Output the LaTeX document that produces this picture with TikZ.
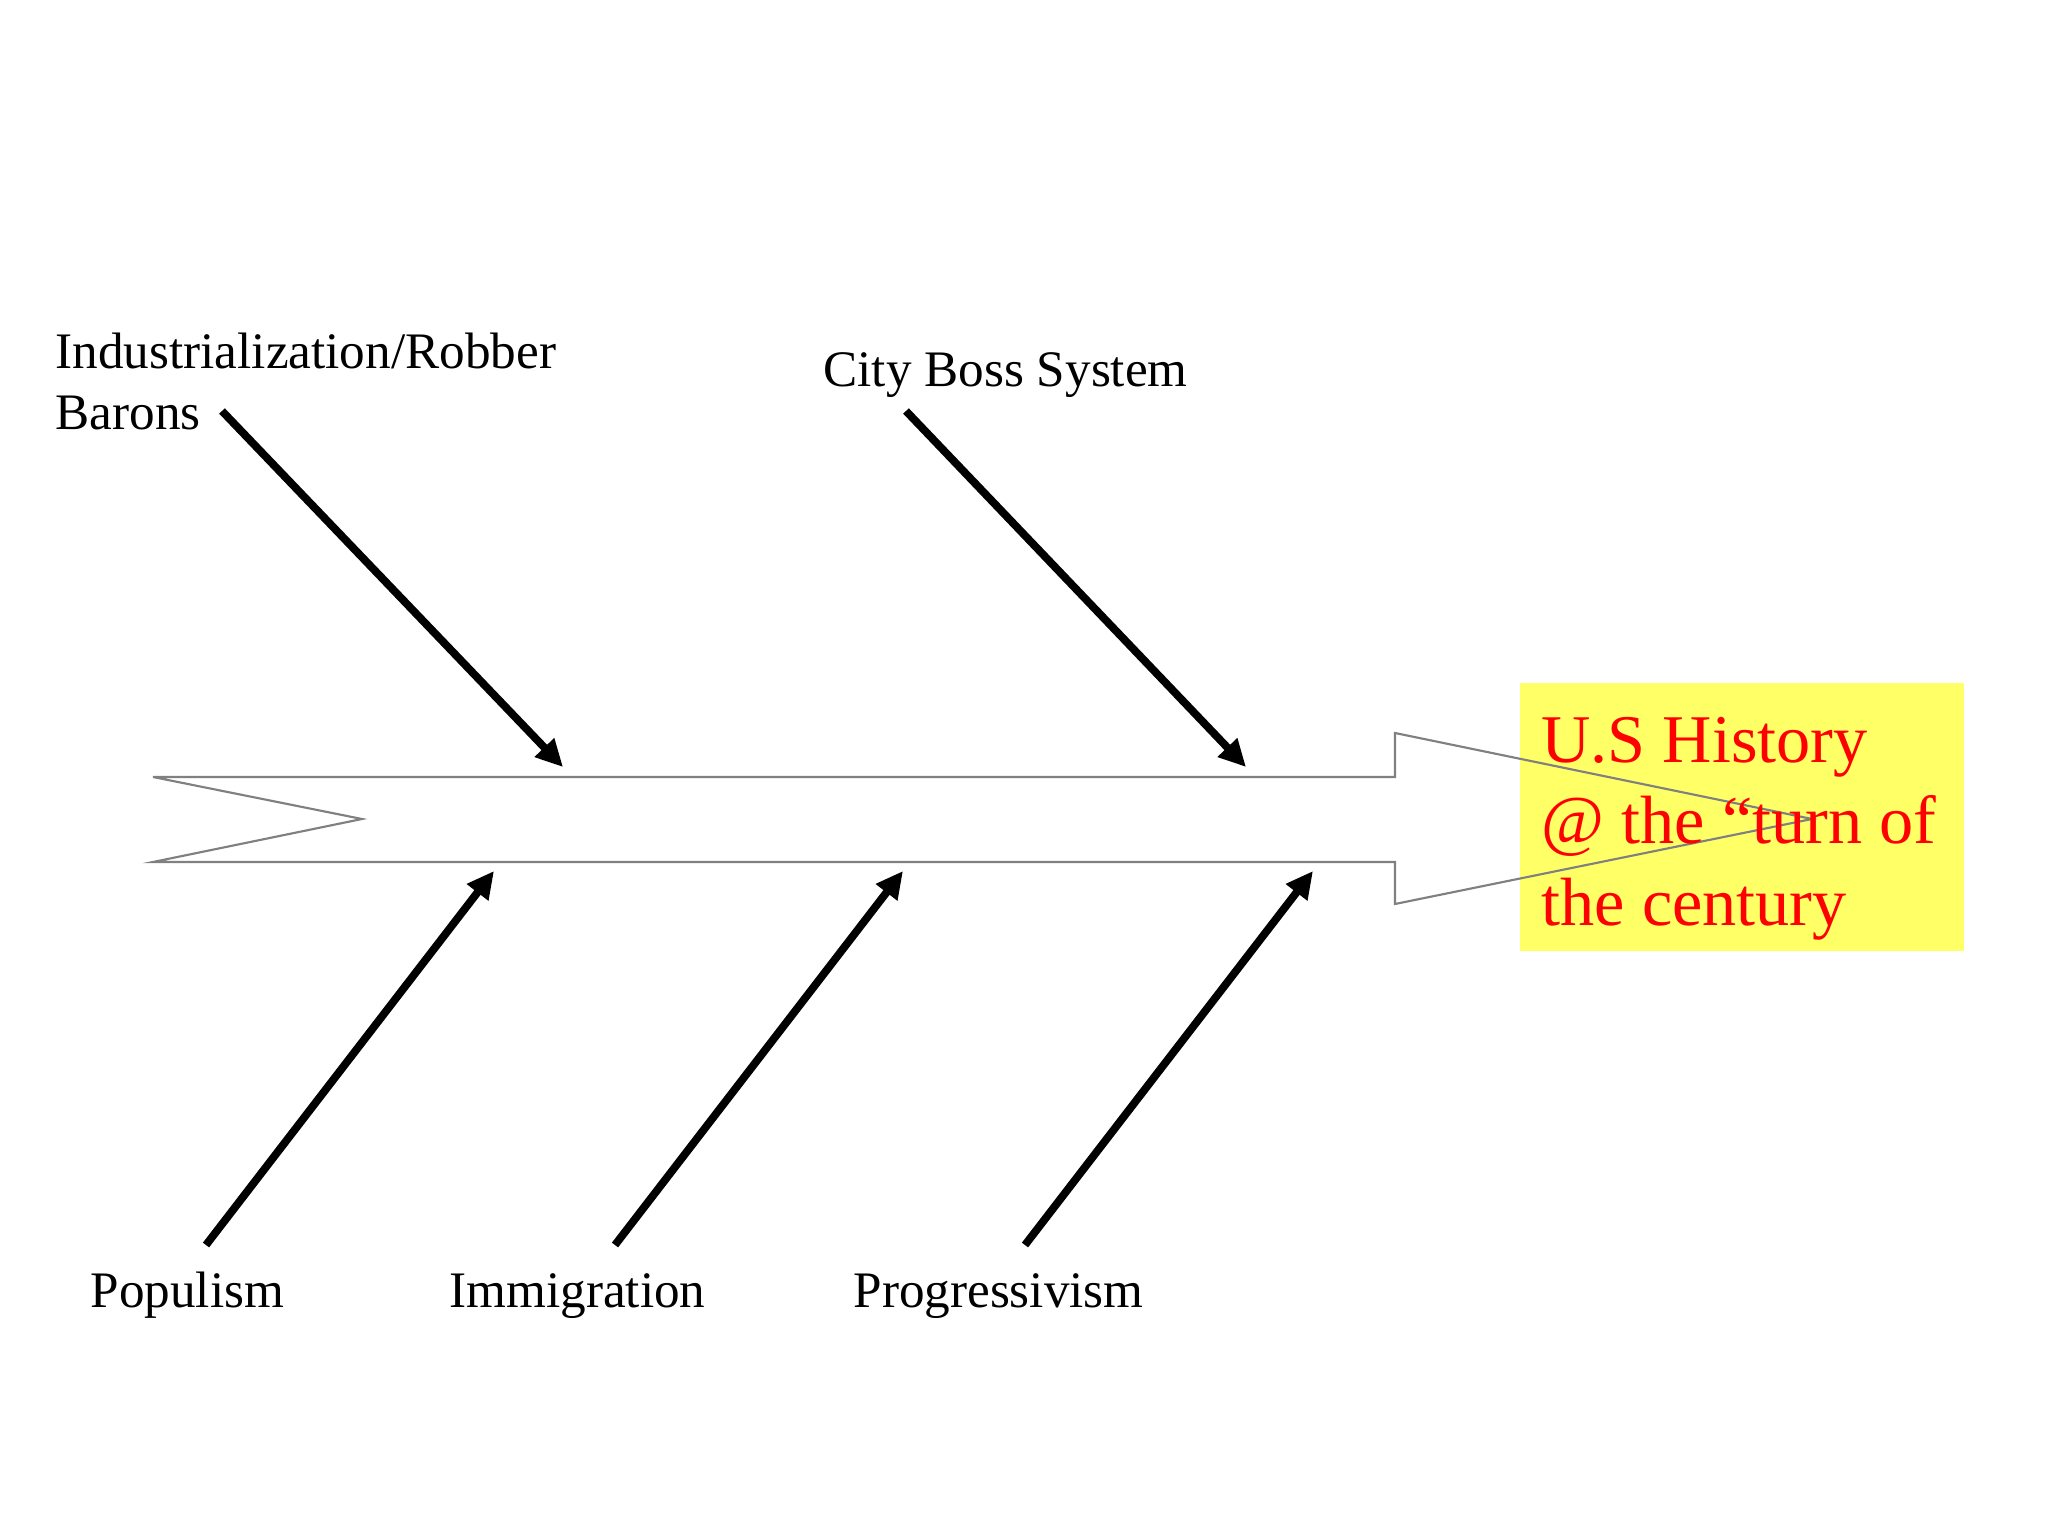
\documentclass[tikz,border=0pt]{standalone}
\usepackage{fontspec}
\setmainfont{Liberation Serif}
\usetikzlibrary{arrows.meta}
\definecolor{boxyellow}{RGB}{255,255,102}
\definecolor{outlinegray}{RGB}{128,128,128}
\definecolor{effectred}{RGB}{255,0,0}
\begin{document}
\begin{tikzpicture}[x=0.3515625pt,y=-0.3515625pt,
  bone/.style={line width=2.75pt,draw=black,-{Triangle[length=9.5pt,width=9pt]}},
  lbl/.style={font=\fontsize{18}{21.45}\selectfont,inner sep=0pt,anchor=base west,align=left},
  spine/.style={draw=outlinegray,line width=0.75pt,line join=miter},
  effectbox/.style={fill=boxyellow,inner sep=0pt,anchor=north west,minimum width=156.1pt,minimum height=94.2pt},
  effecttext/.style={font=\fontsize{24}{28.65}\selectfont,text=effectred,inner sep=0pt,anchor=base west,align=left}]
\useasboundingbox (0,0) rectangle (2048,1536);
% yellow effect box
\node[effectbox] (box) at (1519,682) {};
% spine (notched block arrow)
\draw[spine] (153,777) -- (1395,777) -- (1395,733) -- (1812,819) -- (1395,904)
  -- (1395,862) -- (153,862) -- (362,819) -- cycle;
% effect text (base anchor = baseline of last line)
\node[effecttext] (effect) at (1541,925) {U.S History\\@ the “turn of\\the century};
% cause labels
\node[lbl] (ind) at (55,430) {Industrialization/Robber\\Barons};
\node[lbl] (city) at (823,387) {City Boss System};
\node[lbl] (pop) at (90,1307) {Populism};
\node[lbl] (imm) at (449,1307) {Immigration};
\node[lbl] (prog) at (853,1307) {Progressivism};
% bone coordinates
\coordinate (s1) at (222,411); \coordinate (t1) at (563,767);
\coordinate (s2) at (906,411); \coordinate (t2) at (1246,767);
\coordinate (s3) at (206,1245); \coordinate (t3) at (494,871);
\coordinate (s4) at (615,1245); \coordinate (t4) at (903,871);
\coordinate (s5) at (1025,1245); \coordinate (t5) at (1313,871);
\draw[bone] (s1) -- (t1);
\draw[bone] (s2) -- (t2);
\draw[bone] (s3) -- (t3);
\draw[bone] (s4) -- (t4);
\draw[bone] (s5) -- (t5);
\end{tikzpicture}
\end{document}
